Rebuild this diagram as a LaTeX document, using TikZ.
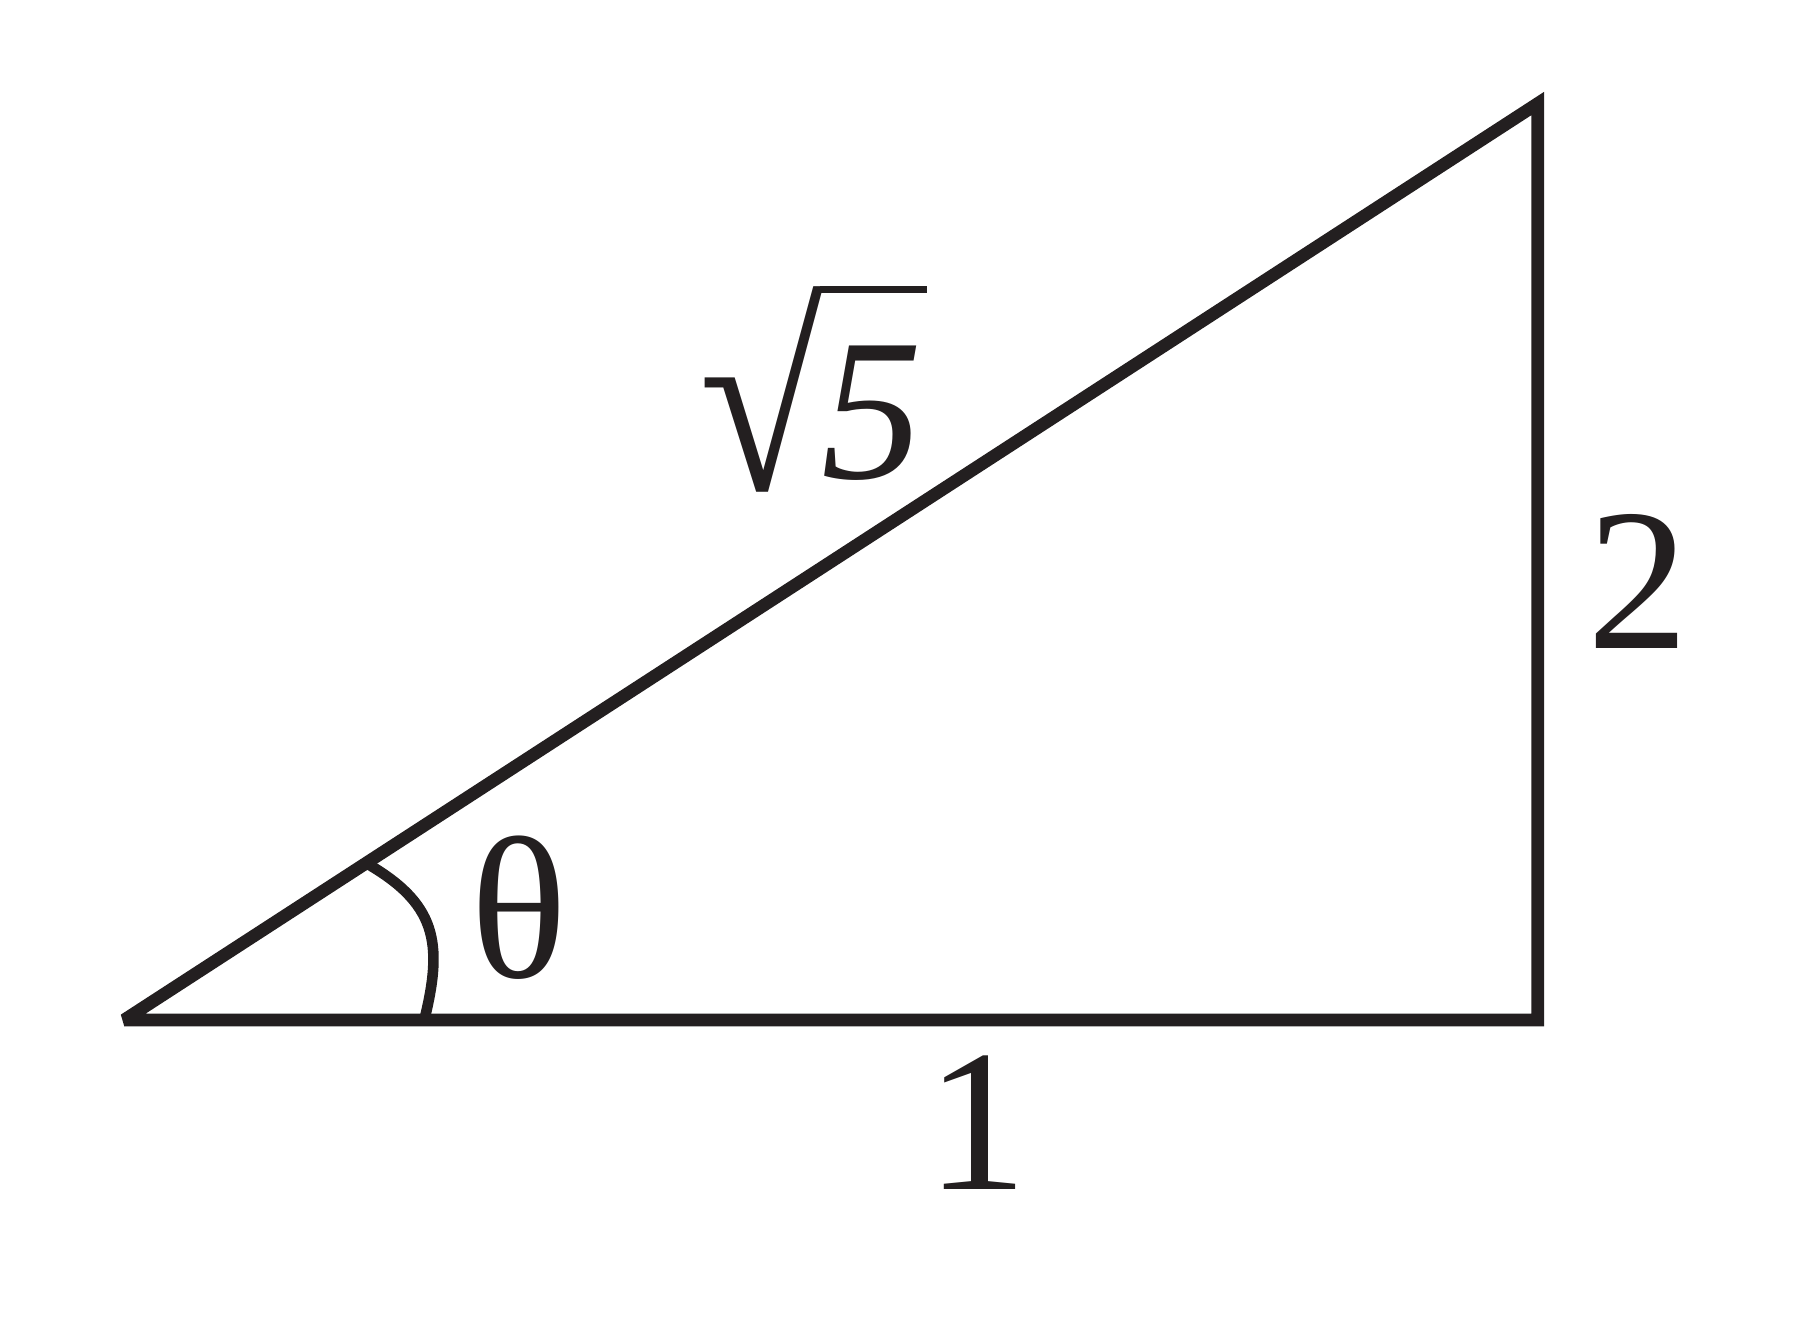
\documentclass[tikz,border=0pt]{standalone}
\usepackage{amsmath}
\usepackage{fontspec}
\setmainfont{Liberation Serif}
\usepackage{tikz}
\usetikzlibrary{calc, positioning}
\definecolor{inkdark}{RGB}{35,31,32}
\newcommand{\bigsz}{\fontsize{88}{100}\selectfont}
\newcommand{\surdsz}{\fontsize{112}{120}\selectfont}

\begin{document}
\begin{tikzpicture}[x=0.5pt, y=-0.5pt,
		side/.style={draw=inkdark, line width=5.5pt, line join=miter, miter limit=3},
		anglemark/.style={draw=inkdark, line width=4.6pt},
		vinculum/.style={draw=inkdark, line width=3pt},
		lbl/.style={inner sep=0pt, text=inkdark, font=\bigsz}]
		\useasboundingbox (0,0) rectangle (1568,1147.3);
		
		\coordinate	(left)		at	(108,886.5);
		\coordinate	(right)		at	(1336.5,886.5);
		\coordinate	(top)		at	(1336.5,90);
		\draw[side] (left) -- (right) -- (top) -- cycle;
		
		\coordinate	(arcstart)	at	(318,750);
		\coordinate	(arcend)	at	(368.8,886.5);
		\draw[anglemark] (arcstart) .. controls (378.9,785) and (385.6,818.6) .. (arcend);
		
		\node[lbl]					(theta)		at	(451.5,788.5)	{θ};
		\node[lbl, font=\surdsz, xscale=0.88, transform shape, anchor=south west]
									(surd)		at	(608,428)		{√};
		\node[lbl, anchor=base west]	(five)		at	(714,416)		{\itshape 5};
		\coordinate	(vincend)	at	(806,248);
		\draw[vinculum] ([xshift=-2pt, yshift=-1.5pt]surd.north east) -- ([yshift=-1.5pt]surd.north east -| vincend);
		\node[lbl]					(height)	at	(1424,505)		{2};
		\node[lbl]					(base)		at	(849.5,976)		{1};
	\end{tikzpicture}
\end{document}
